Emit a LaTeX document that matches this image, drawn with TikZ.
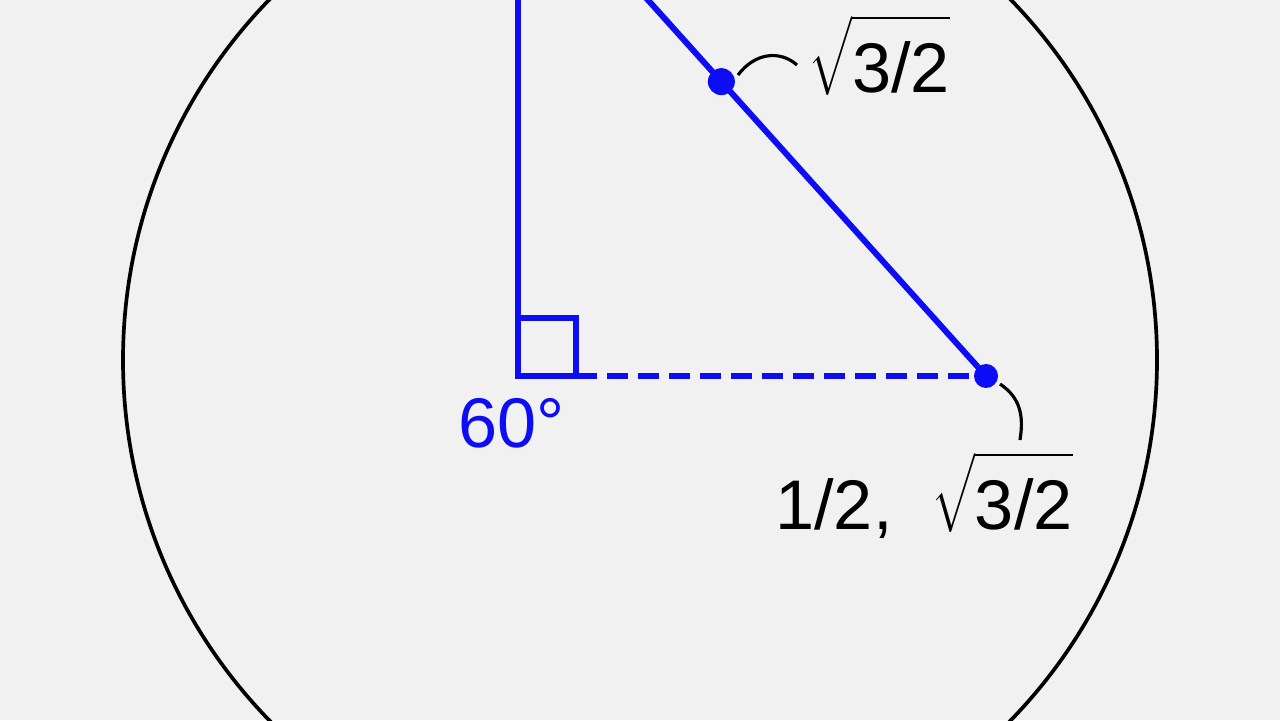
\documentclass[tikz,border=0pt]{standalone}
\usepackage{amsmath}
\usepackage{fontspec}
\setmainfont{Liberation Sans}
\usetikzlibrary{calc}
\definecolor{bgpaper}{HTML}{F1F1F1}
\definecolor{triblue}{RGB}{12,12,245}
\newcommand{\rootlabel}{$\sqrt{\rule{0pt}{1em}\text{3/2}}$}
\tikzset{
	% ---- default
	every node/.style={font=\fontsize{40}{46}\selectfont, inner sep=0pt},
	% ---- custom
	unit circle/.style={line width=2.1pt, black},
	side/.style={line width=3.4pt, triblue},
	projection/.style={line width=3.4pt, triblue, dash pattern=on 0.42cm off 0.2cm},
	label tick/.style={line width=1.8pt, black},
}

\begin{document}
\begin{tikzpicture}[scale=1.0]

% bounding box %{{{2

	\fill[bgpaper] (0,0) rectangle (25.6,14.4);
	\useasboundingbox (0,0) rectangle (25.6,14.4);
	\clip (0,0) rectangle (25.6,14.4);

% parameters %{{{2

	\def\radius{10.34}
	\def\sq{1.16}

% coordinates %{{{2

	\coordinate (O) at (12.8,7.2);
	\coordinate (C) at (10.36,6.88);
	\coordinate (V) at (10.36,15);
	\coordinate (P) at (19.72,6.88);
	\coordinate (T) at (12.42,15);
	\coordinate (M) at ($ (P)!0.725!(T) $);

% circles %{{{2

	\draw[unit circle] (O) circle (\radius);

% segments, sides %{{{2

	\draw[projection] ($ (C)+(\sq,0) $) -- (P);
	\draw[side] (V) -- (C) -- ++(\sq,0);
	\draw[side] (T) -- (P);

% right angles markers %{{{2

	\draw[side] ($ (C)+(0,\sq) $) -- ++(\sq,0) -- ++(0,-\sq);

% points, dots, vertices %{{{2

	\fill[triblue] (M) circle (0.27);
	\fill[triblue] (P) circle (0.24);

% label ticks %{{{2

	\coordinate (m1) at (14.76,12.9);
	\coordinate (m2) at (15.94,13.1);
	\draw[label tick] (m1) .. controls (15.1,13.35) and (15.6,13.4) .. (m2);

	\coordinate (p1) at (20.0,6.72);
	\coordinate (p2) at (20.4,5.6);
	\draw[label tick] (p1) .. controls (20.4,6.45) and (20.48,6.1) .. (p2);

% labels %{{{2

	\node[anchor=base west] (lm) at (16.16,12.54) {\rootlabel};
	\node[anchor=base west] (lp) at (15.5,3.8) {1/2,\hspace{0.55em}\rootlabel};
	\node[anchor=base west, text=triblue] (ang) at (9.16,5.44) {60°};

% closing %{{{2

\end{tikzpicture}
\end{document}
